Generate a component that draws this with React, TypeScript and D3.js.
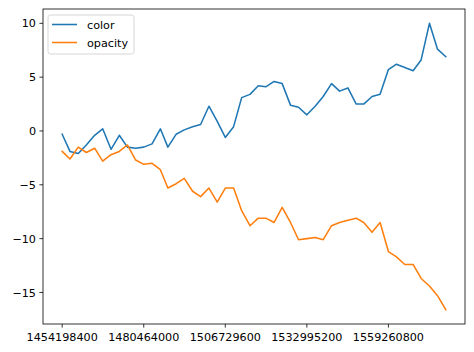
import React from "react";
import * as d3 from "d3";

const startMonth = "2016-01";
const endMonth = "2019-12";
const seriesNames = ["color", "opacity"];
const colorValues = [
  -0.3, -1.9, -2.1, -1.3, -0.4, 0.2, -1.7, -0.4, -1.5, -1.6, -1.5, -1.2,
  0.2, -1.5, -0.3, 0.1, 0.4, 0.6, 2.3, 0.9, -0.6, 0.4, 3.1, 3.4,
  4.2, 4.1, 4.6, 4.4, 2.4, 2.2, 1.5, 2.3, 3.2, 4.4, 3.7, 4.0,
  2.5, 2.5, 3.2, 3.4, 5.7, 6.2, 5.9, 5.6, 6.6, 10.0, 7.6, 6.9,
];
const opacityValues = [
  -1.9, -2.6, -1.5, -2.0, -1.6, -2.8, -2.2, -1.9, -1.3, -2.7, -3.1, -3.0,
  -3.6, -5.3, -4.9, -4.4, -5.6, -6.1, -5.3, -6.6, -5.3, -5.3, -7.4, -8.8,
  -8.1, -8.1, -8.5, -7.1, -8.5, -10.1, -10.0, -9.9, -10.1, -8.8, -8.5, -8.3,
  -8.1, -8.5, -9.4, -8.5, -11.2, -11.7, -12.4, -12.4, -13.7, -14.4, -15.3, -16.6,
];
const xTicks = [1454198400, 1480464000, 1506729600, 1532995200, 1559260800];
const yTicks = [-15, -10, -5, 0, 5, 10];
const colors = ["#1f77b4", "#ff7f0e"];

const W = 474;
const H = 352;
const M = { left: 43, right: 9, top: 9, bottom: 28 };
const FONT = "DejaVu Sans, sans-serif";
const FS = 11.2;

export default function App() {
  const [sy, sm] = startMonth.split("-").map(Number);
  const [ey, em] = endMonth.split("-").map(Number);
  const monthStarts = d3.utcMonth.range(
    new Date(Date.UTC(sy, sm - 1, 1)),
    new Date(Date.UTC(ey, em, 1))
  );
  // month-end timestamps (seconds)
  const xs = monthStarts.map(
    (d) => d3.utcDay.offset(d3.utcMonth.offset(d, 1), -1).getTime() / 1000
  );
  const series = [colorValues, opacityValues];

  const xMin = d3.min(xs) as number;
  const xMax = d3.max(xs) as number;
  const xPad = (xMax - xMin) * 0.05;
  const allY = [...colorValues, ...opacityValues];
  const yMin = d3.min(allY) as number;
  const yMax = d3.max(allY) as number;
  const yPad = (yMax - yMin) * 0.05;

  const x = d3
    .scaleLinear()
    .domain([xMin - xPad, xMax + xPad])
    .range([M.left, W - M.right]);
  const y = d3
    .scaleLinear()
    .domain([yMin - yPad, yMax + yPad])
    .range([H - M.bottom, M.top]);

  const line = d3
    .line<number>()
    .x((_, i) => x(xs[i]))
    .y((v) => y(v));

  const fmtY = (v: number) => (v < 0 ? "\u2212" + Math.abs(v) : String(v));

  return (
    <svg
      width={W}
      height={H}
      style={{ position: "absolute", left: 0, top: 0, background: "#fff" }}
      fontFamily={FONT}
    >
      <rect x={0} y={0} width={W} height={H} fill="#fff" />
      {series.map((vals, k) => (
        <path
          key={k}
          d={line(vals) || ""}
          fill="none"
          stroke={colors[k]}
          strokeWidth={1.55}
          strokeLinejoin="round"
          strokeLinecap="square"
        />
      ))}
      <rect
        x={M.left}
        y={M.top}
        width={W - M.left - M.right}
        height={H - M.top - M.bottom}
        fill="none"
        stroke="#000"
        strokeWidth={0.8}
      />
      {xTicks.map((t) => (
        <g key={t} transform={`translate(${x(t)},${H - M.bottom})`}>
          <line y2={3.6} stroke="#000" strokeWidth={0.8} />
          <text y={17} textAnchor="middle" fontSize={FS} fill="#000">
            {t}
          </text>
        </g>
      ))}
      {yTicks.map((t) => (
        <g key={t} transform={`translate(${M.left},${y(t)})`}>
          <line x2={-3.6} stroke="#000" strokeWidth={0.8} />
          <text x={-7} dy="0.36em" textAnchor="end" fontSize={FS} fill="#000">
            {fmtY(t)}
          </text>
        </g>
      ))}
      <g transform={`translate(${M.left + 5},${M.top + 6})`}>
        <rect
          x={0}
          y={0}
          width={86}
          height={39}
          rx={2.5}
          fill="#fff"
          fillOpacity={0.8}
          stroke="#cccccc"
          strokeWidth={0.8}
        />
        {seriesNames.map((n, k) => (
          <g key={n} transform={`translate(0,${9.5 + k * 18})`}>
            <line x1={4} x2={29} stroke={colors[k]} strokeWidth={1.55} />
            <text x={39} dy="0.36em" fontSize={FS} fill="#000">
              {n}
            </text>
          </g>
        ))}
      </g>
    </svg>
  );
}
